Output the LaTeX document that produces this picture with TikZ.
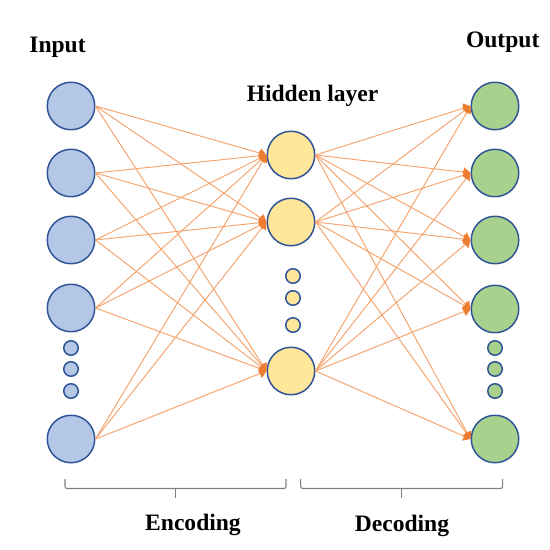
\documentclass[tikz,border=0pt]{standalone}
\usepackage{fontspec}
\setmainfont{Liberation Serif}
\usetikzlibrary{arrows.meta}
\definecolor{ringblue}{HTML}{2F5597}
\definecolor{inblue}{HTML}{B4C7E7}
\definecolor{hidyellow}{HTML}{FFE699}
\definecolor{outgreen}{HTML}{A9D18E}
\definecolor{linkorange}{HTML}{F5A36C}
\definecolor{tiporange}{HTML}{ED7D31}
\definecolor{bracegray}{HTML}{7F7F7F}

\begin{document}
\begin{tikzpicture}[
		x=0.02cm, y=-0.02cm,
		every node/.style={circle, draw=ringblue, line width=0.85pt, minimum size=0.95cm, inner sep=0pt},
		dot/.style={minimum size=0.29cm},
		title/.style={rectangle, draw=none, minimum size=0pt, inner sep=0pt, anchor=base,
			font=\fontsize{13.4}{16}\selectfont\bfseries},
		link/.style={draw=linkorange, line width=0.55pt,
			-{Triangle[length=1.4mm, width=1.9mm, color=tiporange]}},
		bracket/.style={draw=bracegray, line width=0.6pt, rounded corners=1.2pt}
	]
  \useasboundingbox (0, 0) rectangle (550, 550);
  \node (in_1) [fill=inblue] at (71, 106) {};
  \node (in_2) [fill=inblue] at (71, 173) {};
  \node (in_3) [fill=inblue] at (71, 240) {};
  \node (in_4) [fill=inblue] at (71, 308) {};
  \node (in_5) [fill=inblue] at (71, 439) {};
  \node (in_d1) [fill=inblue, dot] at (71, 348) {};
  \node (in_d2) [fill=inblue, dot] at (71, 369) {};
  \node (in_d3) [fill=inblue, dot] at (71, 391) {};
  \node (hid_1) [fill=hidyellow] at (291, 155) {};
  \node (hid_2) [fill=hidyellow] at (291, 222) {};
  \node (hid_3) [fill=hidyellow] at (291, 371) {};
  \node (hid_d1) [fill=hidyellow, dot] at (293, 276) {};
  \node (hid_d2) [fill=hidyellow, dot] at (293, 298) {};
  \node (hid_d3) [fill=hidyellow, dot] at (293, 325) {};
  \node (out_1) [fill=outgreen] at (495, 106) {};
  \node (out_2) [fill=outgreen] at (495, 173) {};
  \node (out_3) [fill=outgreen] at (495, 240) {};
  \node (out_4) [fill=outgreen] at (495, 309) {};
  \node (out_5) [fill=outgreen] at (495, 439) {};
  \node (out_d1) [fill=outgreen, dot] at (495, 348) {};
  \node (out_d2) [fill=outgreen, dot] at (495, 369) {};
  \node (out_d3) [fill=outgreen, dot] at (495, 391) {};
  \foreach \i in {1,...,5}
    \foreach \h in {1,2,3} {
      \draw [link] (in_\i.east) -- (hid_\h.west);
      \draw [link] (hid_\h.east) -- (out_\i.west);
    }
  \node (input_lbl) [title] at (57.5, 52.3) {Input};
  \node (hidden_lbl) [title] at (312.5, 101.7) {Hidden layer};
  \node (output_lbl) [title] at (502.7, 47.3) {Output};
  \coordinate (enc_l) at (65, 479);
  \coordinate (enc_r) at (286, 479);
  \coordinate (enc_mid) at (175.7, 488.5);
  \coordinate (enc_tip) at (175.7, 498);
  \coordinate (dec_l) at (300.7, 479);
  \coordinate (dec_r) at (502.7, 479);
  \coordinate (dec_mid) at (401.7, 488.5);
  \coordinate (dec_tip) at (401.7, 498);
  \draw [bracket] (enc_l) |- (enc_mid) -| (enc_r);
  \draw [bracket] (enc_mid) -- (enc_tip);
  \draw [bracket] (dec_l) |- (dec_mid) -| (dec_r);
  \draw [bracket] (dec_mid) -- (dec_tip);
  \node (enc_lbl) [title] at (193, 530.7) {Encoding};
  \node (dec_lbl) [title] at (402, 531) {Decoding};
\end{tikzpicture}
\end{document}
